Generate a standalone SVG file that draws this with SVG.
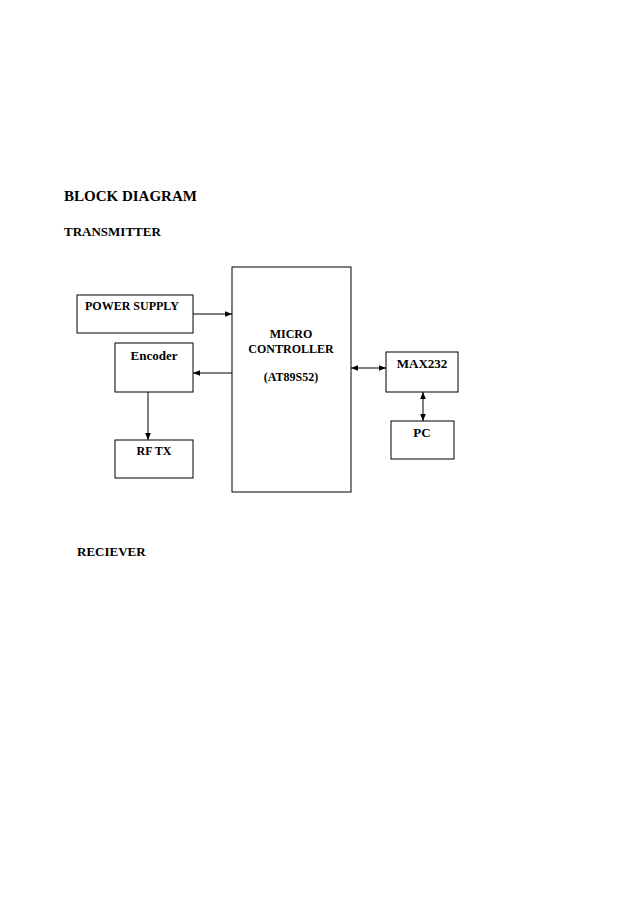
<svg xmlns="http://www.w3.org/2000/svg" width="638" height="903" viewBox="0 0 638 903">
<style>
.b{fill:none;stroke:#000;stroke-width:1}
.t{font-family:"Liberation Serif",serif;font-weight:bold;fill:#000}
.l{stroke:#000;stroke-width:1;fill:none}
</style>
<defs>
<marker id="a" viewBox="0 0 10 10" refX="10" refY="5" markerWidth="7" markerHeight="7" orient="auto-start-reverse" markerUnits="userSpaceOnUse"><path d="M0,1 L10,5 L0,9 z" fill="#000"/></marker>
</defs>
<rect width="638" height="903" fill="#fff"/>
<text class="t" x="64" y="201" font-size="15">BLOCK DIAGRAM</text>
<text class="t" x="64" y="236" font-size="13">TRANSMITTER</text>
<text class="t" x="77" y="556" font-size="13">RECIEVER</text>
<g id="power"><rect class="b" x="77" y="295" width="116" height="38"/><text class="t" x="85" y="310" font-size="12">POWER SUPPLY</text></g>
<g id="encoder"><rect class="b" x="115" y="343" width="78" height="49"/><text class="t" x="154" y="360" font-size="13" text-anchor="middle">Encoder</text></g>
<g id="rftx"><rect class="b" x="115" y="440" width="78" height="38"/><text class="t" x="154" y="455" font-size="12" text-anchor="middle">RF TX</text></g>
<g id="mc"><rect class="b" x="232" y="267" width="119" height="225"/>
<text class="t" x="291" y="338" font-size="12" text-anchor="middle">MICRO</text>
<text class="t" x="291" y="353" font-size="12" text-anchor="middle">CONTROLLER</text>
<text class="t" x="291" y="381" font-size="12" text-anchor="middle">(AT89S52)</text></g>
<g id="max232"><rect class="b" x="386" y="352" width="72" height="40"/><text class="t" x="422" y="368" font-size="13" text-anchor="middle">MAX232</text></g>
<g id="pc"><rect class="b" x="391" y="421" width="63" height="38"/><text class="t" x="422" y="437" font-size="13" text-anchor="middle">PC</text></g>
<g id="connectors">
<line class="l" x1="193" y1="314" x2="232" y2="314" marker-end="url(#a)"/>
<line class="l" x1="232" y1="373" x2="193" y2="373" marker-end="url(#a)"/>
<line class="l" x1="148" y1="392" x2="148" y2="440" marker-end="url(#a)"/>
<line class="l" x1="351" y1="368" x2="386" y2="368" marker-start="url(#a)" marker-end="url(#a)"/>
<line class="l" x1="423" y1="392" x2="423" y2="421" marker-start="url(#a)" marker-end="url(#a)"/>
</g>
</svg>
